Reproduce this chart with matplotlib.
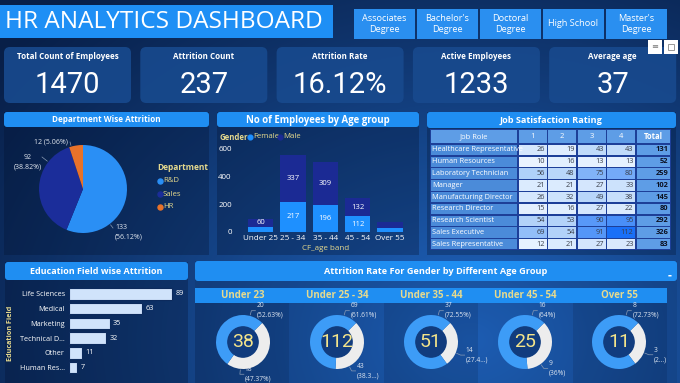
import numpy as np
import matplotlib
matplotlib.use("Agg")
import matplotlib.pyplot as plt
from matplotlib.patches import FancyBboxPatch, Rectangle, Circle
from matplotlib.colors import LinearSegmentedColormap, Normalize, to_rgb

plt.rcParams['font.family'] = ['Open Sans', 'DejaVu Sans']

W, H = 680, 383

# ---- data ----
kpi_titles = ["Total Count of Employees", "Attrition Count", "Attrition Rate",
              "Active Employees", "Average age"]
kpi_values = ["1470", "237", "16.12%", "1233", "37"]

degree_buttons = ["Associates\nDegree", "Bachelor's\nDegree", "Doctoral\nDegree",
                  "High School", "Master's\nDegree"]

departments = ["R&D", "Sales", "HR"]
dept_attrition = [133, 92, 12]

age_bands = ["Under 25", "25 - 34", "35 - 44", "45 - 54", "Over 55"]
female_count = [37, 217, 196, 112, 26]
male_count = [60, 337, 309, 132, 46]

job_roles = ["Healthcare Representative", "Human Resources", "Laboratory Technician",
             "Manager", "Manufacturing Director", "Research Director",
             "Research Scientist", "Sales Executive", "Sales Representative"]
sat_levels = ["1", "2", "3", "4"]
sat_1 = [26, 10, 56, 21, 26, 15, 54, 69, 12]
sat_2 = [19, 16, 48, 21, 32, 16, 53, 54, 21]
sat_3 = [43, 13, 75, 27, 49, 27, 90, 91, 27]
sat_4 = [43, 13, 80, 33, 38, 22, 95, 112, 23]

edu_fields = ["Life Sciences", "Medical", "Marketing", "Technical D...", "Other", "Human Res..."]
edu_attrition = [89, 63, 35, 32, 11, 7]

age_groups = ["Under 23", "Under 25 - 34", "Under 35 - 44", "Under 45 - 54", "Over 55"]
group_blue = [20, 69, 37, 16, 8]
group_white = [18, 43, 14, 9, 3]
white_text = ["(47.37%)", "(38.3...)", "(27.4...)", "(36%)", "(2...)"]

# ---- colours ----
BRIGHT = '#1f8ef2'
KHAKI = '#e6da8e'
FEMALE = '#1e90ff'
MALE = '#1b2a94'

fig = plt.figure(figsize=(W / 100, H / 100), dpi=100)
bg = fig.add_axes([0, 0, 1, 1])
bg.set_xlim(0, W)
bg.set_ylim(H, 0)
bg.axis('off')

# background gradient, brighter towards the lower middle
yy, xx = np.mgrid[0:H, 0:W]
d = np.hypot(xx - 470, (yy - 340) * 1.3)
t = np.clip(1 - d / 600, 0, 1) ** 1.1
c0, c1 = np.array(to_rgb('#081f48')), np.array(to_rgb('#2066c2'))
bg.imshow(c0 + (c1 - c0) * t[..., None], extent=[0, W, H, 0], aspect='auto', zorder=0)


def px_axes(x0, y0, x1, y1):
    ax = fig.add_axes([x0 / W, 1 - y1 / H, (x1 - x0) / W, (y1 - y0) / H])
    ax.patch.set_alpha(0)
    return ax


def box(x, y, w, h, color, r=0, alpha=1, z=1, ec='none'):
    style = f"round,pad=0,rounding_size={r}" if r else "square,pad=0"
    bg.add_patch(FancyBboxPatch((x, y), w, h, boxstyle=style, fc=color,
                                ec=ec, lw=0.6, alpha=alpha, zorder=z))


def panel(x0, y0, x1, y1, ybar, title, fs=7, shade=0.3):
    box(x0, y0, x1 - x0, y1 - y0, '#03112e', alpha=shade)
    box(x0, y0, x1 - x0, ybar - y0, BRIGHT, r=3)
    bg.text((x0 + x1) / 2, (y0 + ybar) / 2 + 0.5, title, color='white', fontsize=fs,
            weight='bold', ha='center', va='center', zorder=3)


# title + slicer
box(0, 5, 333, 33, '#1e8ff5')
bg.text(5, 22, "HR ANALYTICS DASHBOARD", color='white', fontsize=17.6, ha='left', va='center')
for i, lab in enumerate(degree_buttons):
    x0 = 354 + i * 63
    box(x0, 9, 61, 30, '#2a8ff0')
    bg.text(x0 + 30.5, 24, lab, color='white', fontsize=6.6, ha='center', va='center',
            linespacing=1.2)
for x0 in (648, 664):
    box(x0, 40, 14, 14, 'white', z=2)
bg.text(655, 47, '≡', color='#777777', fontsize=6, ha='center', va='center', zorder=3)
box(668, 44, 6, 6, 'none', z=3, ec='#888888')

# KPI cards
for i, (ttl, val) in enumerate(zip(kpi_titles, kpi_values)):
    x0 = 4 + i * 136.3
    box(x0, 47, 127, 56, '#184a8e', r=6, alpha=0.9)
    bg.text(x0 + 63.5, 56.5, ttl, color='white', fontsize=5.8, weight='bold',
            ha='center', va='center')
    bg.text(x0 + 63.5, 85, val, color='white', fontsize=21, ha='center', va='center',
            family=['Roboto', 'DejaVu Sans'])

# panels
panel(4, 112, 209, 255, 127, "Department Wise Attrition", 5.9)
panel(217, 112, 419, 255, 127, "No of Employees by Age group", 6.9)
panel(427, 112, 676, 255, 128, "Job Satisfaction Rating", 6.6)
panel(5, 262, 188, 383, 280, "Education Field wise Attrition", 6.5)
panel(195, 261, 677, 383, 281, "Attrition Rate For Gender by Different Age Group", 6.6,
      shade=0.1)
bg.text(670, 276, '▬', color='white', fontsize=3, ha='center', va='center', zorder=3,
        family=['DejaVu Sans'])

# ---- department pie ----
pie_cx, pie_cy, pie_r = 83, 189, 44
pie_ax = px_axes(pie_cx - pie_r, pie_cy - pie_r, pie_cx + pie_r, pie_cy + pie_r)
dept_colors = ['#2a8ff5', '#1b2d9a', '#e8722a']
wedges, _ = pie_ax.pie(dept_attrition, colors=dept_colors, startangle=90,
                       counterclock=False, radius=1)
pie_ax.set_xlim(-1, 1)
pie_ax.set_ylim(-1, 1)

pie_total = sum(dept_attrition)
pie_label_pos = [(115, 232, 'left'), (28, 162, 'center'), (68, 142, 'right')]
pie_line_end = [(113, 228), (42, 157), (70, 142)]
for wdg, v, (tx, ty, ha), (lx, ly) in zip(wedges, dept_attrition, pie_label_pos, pie_line_end):
    pct = f"{100 * v / pie_total:.2f}%"
    txt = f"{v} ({pct})" if ha == 'right' else f"{v}\n({pct})"
    bg.text(tx, ty, txt, color='#e0e6ee', fontsize=5, ha=ha, va='center', zorder=4,
            linespacing=1.5)
    a = np.degrees(np.arctan2(pie_cy - ly, lx - pie_cx))
    lo, hi = sorted((wdg.theta1, wdg.theta2))
    a = (a - lo) % 360 + lo
    a = np.radians(min(max(a, lo + 2), hi - 2))
    ax_ = pie_cx + pie_r * 1.03 * np.cos(a)
    ay_ = pie_cy - pie_r * 1.03 * np.sin(a)
    bg.plot([ax_, lx], [ay_, ly], color='#8a9bb5', lw=0.5, zorder=4)

bg.text(157, 168, "Department", color=KHAKI, fontsize=6, weight='bold', va='center')
for i, (name, col) in enumerate(zip(departments, dept_colors)):
    yk = 181 + i * 13
    bg.plot(159.5, yk, 'o', ms=3.6, color=col, zorder=4)
    bg.text(163, yk, name, color=KHAKI, fontsize=5.6, va='center')

# ---- employees by age group ----
bar_ax = px_axes(244.3, 148.7, 406.3, 232)
xpos = np.arange(len(age_bands))
bar_ax.bar(xpos, female_count, width=0.79, color=FEMALE)
bar_ax.bar(xpos, male_count, bottom=female_count, width=0.79, color=MALE)
for xi, f, m in zip(xpos, female_count, male_count):
    if f >= 50:
        bar_ax.text(xi, f / 2, str(f), color='white', fontsize=5.5, ha='center', va='center')
    if m >= 50:
        bar_ax.text(xi, f + m / 2, str(m), color='white', fontsize=5.5, ha='center', va='center')
bar_ax.set_xlim(-0.5, 4.5)
bar_ax.set_ylim(0, 600)
bar_ax.set_yticks([0, 200, 400, 600])
bar_ax.set_xticks(xpos)
bar_ax.set_xticklabels(age_bands)
bar_ax.tick_params(colors='white', labelsize=5.8, length=0)
bar_ax.tick_params(axis='y', pad=9)
bar_ax.tick_params(axis='x', pad=2)
for s in bar_ax.spines.values():
    s.set_visible(False)
bar_ax.set_xlabel("CF_age band", color=KHAKI, fontsize=5.8, labelpad=2)

bg.text(219, 137, "Gender", color=KHAKI, fontsize=5.6, weight='bold', va='center')
for lab, col, xk in [("Female", FEMALE, 250), ("Male", MALE, 280)]:
    bg.plot(xk, 137, 'o', ms=3.4, color=col, zorder=4)
    bg.text(xk + 3, 137, lab, color=KHAKI, fontsize=5.6, va='center')

# ---- job satisfaction table ----
col_w = [88, 29.5, 29.5, 29.5, 29.5, 35]
head_h, row_h = 15, 11.8
tab_w, tab_h = sum(col_w), head_h + row_h * len(job_roles)
tab_ax = px_axes(430, 129, 430 + tab_w, 129 + tab_h)
tab_ax.set_xlim(0, tab_w)
tab_ax.set_ylim(tab_h, 0)
tab_ax.axis('off')
tab_ax.add_patch(Rectangle((0, 0), tab_w, tab_h, fc='#1d3f98', ec='none'))
col_x = np.concatenate([[0], np.cumsum(col_w)])
sat_cols = [sat_1, sat_2, sat_3, sat_4]
all_vals = np.array(sat_cols)
cmap = LinearSegmentedColormap.from_list('sat', ['#e9f3ff', '#a9cdf8', '#1a70f8'])
norm = Normalize(all_vals.min(), all_vals.max())
g = 0.7

headers = ["Job Role"] + sat_levels + ["Total"]
for j, hd in enumerate(headers):
    tab_ax.add_patch(Rectangle((col_x[j] + g, g), col_w[j] - 2 * g, head_h - 2 * g,
                               fc='#5e9de6', ec='none'))
    tab_ax.text(col_x[j] + col_w[j] / 2, head_h / 2, hd, color='white', fontsize=5.5,
                weight='bold' if hd == "Total" else 'normal', ha='center', va='center')

for i, role in enumerate(job_roles):
    y0 = head_h + i * row_h
    yc = y0 + row_h / 2
    tab_ax.add_patch(Rectangle((col_x[0] + g, y0 + g), col_w[0] - 2 * g, row_h - 2 * g,
                               fc='#4b8bd9', ec='none'))
    tab_ax.text(col_x[0] + 2, yc, role, color='white', fontsize=5.3, va='center')
    row_vals = [c[i] for c in sat_cols]
    for j, v in enumerate(row_vals, start=1):
        tab_ax.add_patch(Rectangle((col_x[j] + g, y0 + g), col_w[j] - 2 * g, row_h - 2 * g,
                                   fc=cmap(norm(v)), ec='none'))
        tab_ax.text(col_x[j + 1] - 2.5, yc, str(v), color='#3a3f4a', fontsize=5.3,
                    ha='right', va='center')
    tab_ax.add_patch(Rectangle((col_x[5] + g, y0 + g), col_w[5] - 2 * g, row_h - 2 * g,
                               fc='#5e9de6', ec='none'))
    tab_ax.text(col_x[6] - 2.5, yc, str(sum(row_vals)), color='#0b1020', fontsize=5.4,
                weight='bold', ha='right', va='center')

# ---- education field attrition ----
edu_ax = px_axes(69, 286.6, 185, 374.9)
ypos = np.arange(len(edu_fields))
edu_ax.barh(ypos, edu_attrition, height=0.78, color='#d0e3fb', edgecolor='#0c2a5c', lw=0.8)
for yi, v in zip(ypos, edu_attrition):
    edu_ax.text(v + 3, yi, str(v), color='white', fontsize=5.2, va='center')
edu_ax.set_xlim(0, 100)
edu_ax.set_ylim(5.5, -0.5)
edu_ax.set_yticks(ypos)
edu_ax.set_yticklabels(edu_fields)
edu_ax.set_xticks([])
edu_ax.tick_params(axis='y', colors='white', labelsize=5.2, length=0, pad=3)
for s in edu_ax.spines.values():
    s.set_visible(False)
bg.text(11, 333, "Education Field", color=KHAKI, fontsize=5.2, weight='bold',
        rotation=90, ha='center', va='center')

# ---- attrition by age group donuts ----
box(195, 288, 472, 15, BRIGHT)
col_pitch = 472 / len(age_groups)
for i in range(len(age_groups)):
    if i % 2 == 0:
        box(195 + i * col_pitch, 303, col_pitch, 80, '#03112e', alpha=0.14)

donut_r, donut_cy = 27, 342
for i, (grp, b, wv, wt) in enumerate(zip(age_groups, group_blue, group_white, white_text)):
    cx = 243 + i * 94
    bg.text(cx, 295.5, grp, color=KHAKI, fontsize=7, weight='bold', ha='center',
            va='center', zorder=3)
    dax = px_axes(cx - donut_r, donut_cy - donut_r, cx + donut_r, donut_cy + donut_r)
    start_cw = 45
    dax.pie([wv, b], colors=['#ededed', '#3d9cf7'], startangle=90 - start_cw,
            counterclock=False, radius=1, wedgeprops=dict(width=0.44, edgecolor='none'))
    dax.add_patch(Circle((0, 0), 0.56, color='#113c7e', zorder=3))
    dax.text(0, 0, str(b + wv), color='#f4e48a', fontsize=14, ha='center', va='center',
             family=['Roboto', 'DejaVu Sans'], zorder=4)
    dax.set_xlim(-1, 1)
    dax.set_ylim(-1, 1)

    tot = b + wv
    bpct = f"{100 * b / tot:.2f}".rstrip('0').rstrip('.')
    end_cw = start_cw + 360 * wv / tot
    for ang, txt in [(start_cw - 30, f"{b}\n({bpct}%)"), (end_cw - 30, f"{wv}\n{wt}")]:
        a = np.radians(ang)
        sx, sy = np.sin(a), -np.cos(a)
        p1 = (cx + donut_r * 1.04 * sx, donut_cy + donut_r * 1.04 * sy)
        p2 = (cx + donut_r * 1.2 * sx, donut_cy + donut_r * 1.2 * sy)
        side = 1 if sx > -0.3 else -1
        p3 = (p2[0] + 4 * side, p2[1])
        bg.plot([p1[0], p2[0], p3[0]], [p1[1], p2[1], p3[1]], color='#8a9bb5', lw=0.5, zorder=4)
        bg.text(p3[0] + side, p3[1], txt, color='#dde5f0', fontsize=4.8,
                ha='left' if side > 0 else 'right', va='center', linespacing=1.5, zorder=4)

fig.savefig("out.png", dpi=100)
